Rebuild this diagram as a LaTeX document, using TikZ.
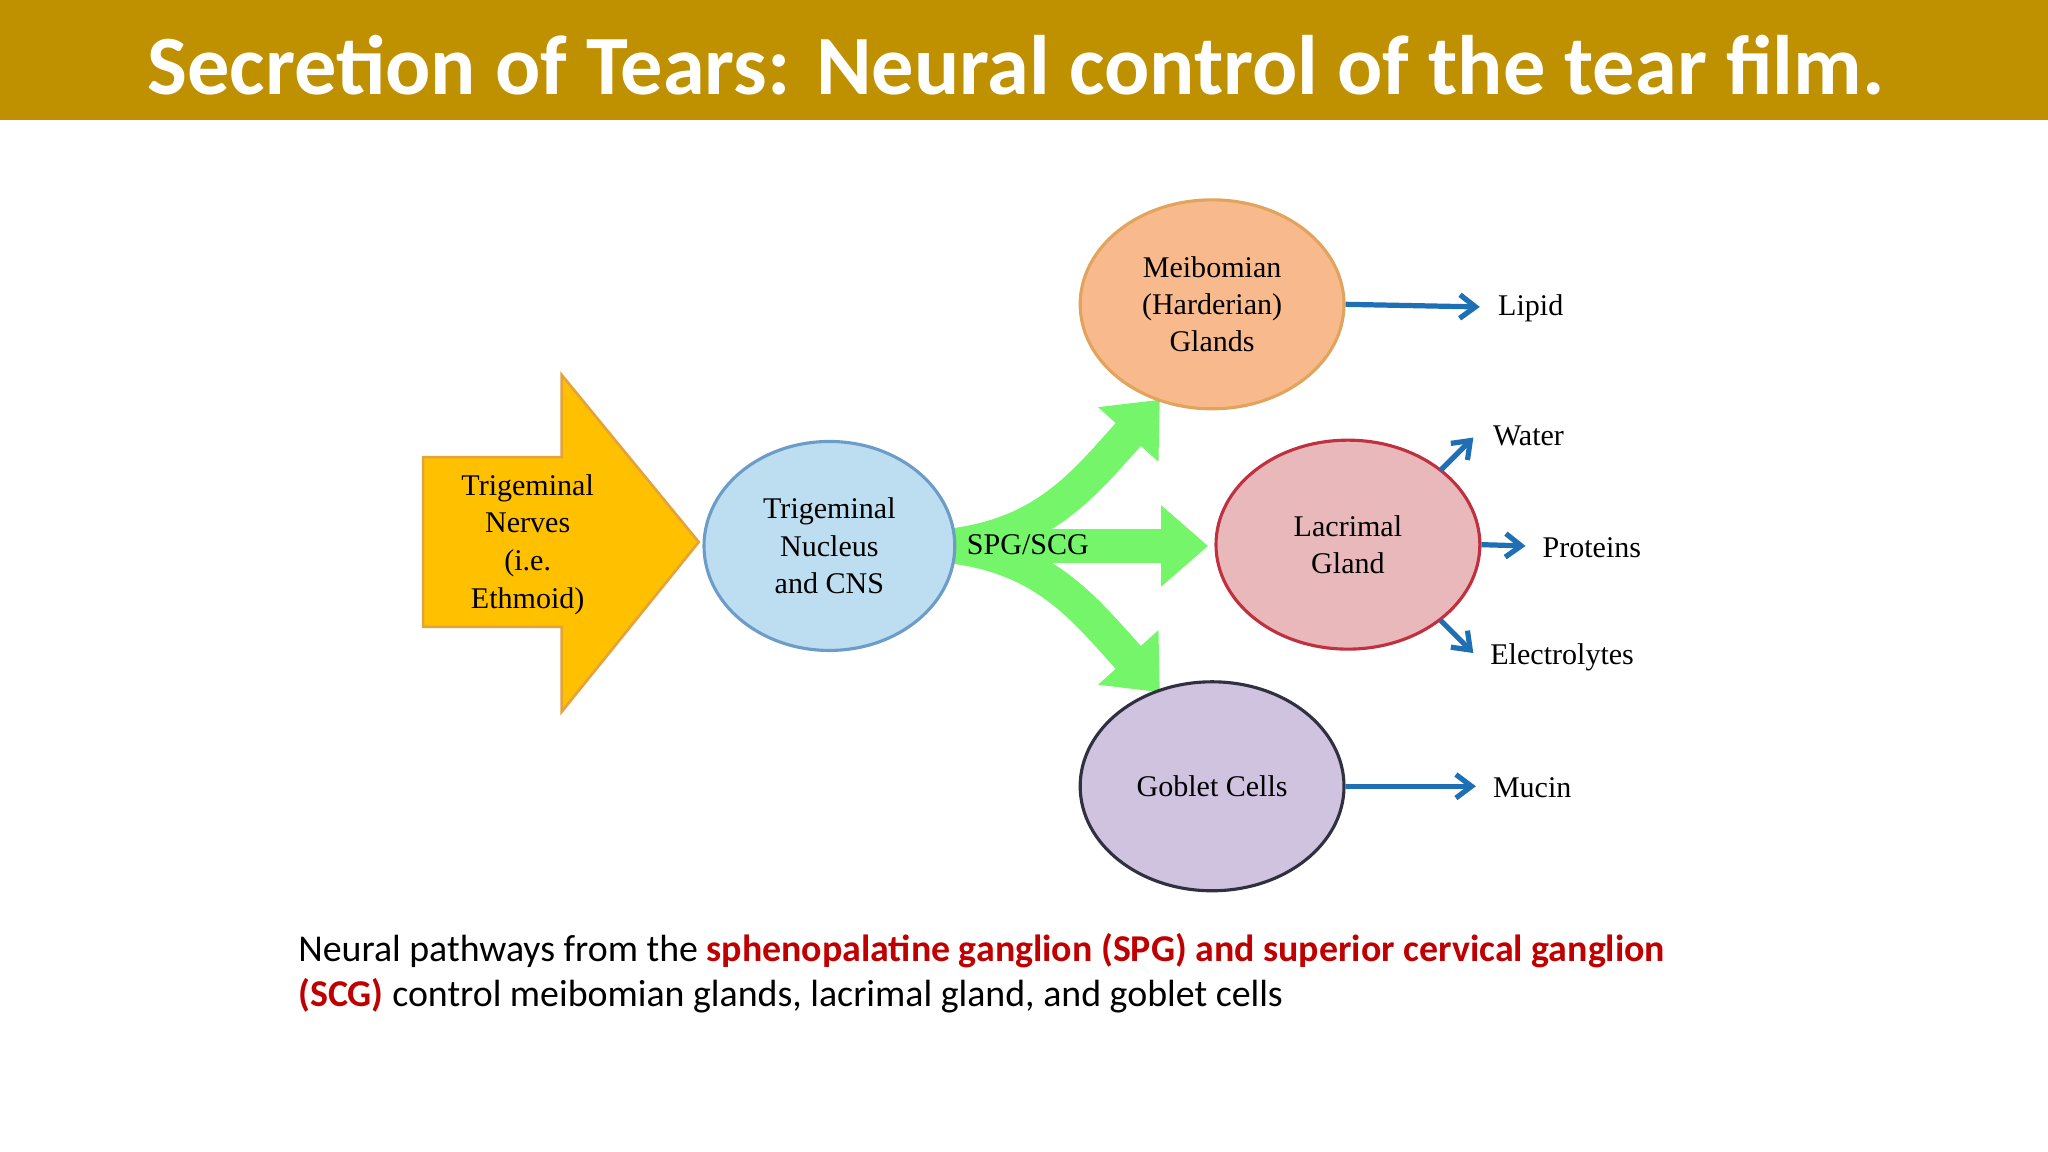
\documentclass[tikz,border=0pt]{standalone}
\usepackage{fontspec}
\setmainfont{Carlito}
\newfontfamily\serifd{Liberation Serif}
\usetikzlibrary{arrows.meta,shapes.geometric}
\definecolor{banner}{HTML}{BF9000}
\definecolor{bl}{HTML}{1F6FB5}
\definecolor{grn}{HTML}{74F56A}
\definecolor{capred}{HTML}{C00000}
\definecolor{arrF}{HTML}{FFC000}\definecolor{arrD}{HTML}{E3A33A}
\definecolor{nucF}{HTML}{BDDDF0}\definecolor{nucD}{HTML}{6C9CC8}
\definecolor{meiF}{HTML}{F8BA8C}\definecolor{meiD}{HTML}{E2A45C}
\definecolor{lacF}{HTML}{E9B8BA}\definecolor{lacD}{HTML}{C0303F}
\definecolor{gobF}{HTML}{CFC3E0}\definecolor{gobD}{HTML}{303040}
\tikzset{
 ell/.style={ellipse,draw,line width=1.2pt,minimum width=101pt,minimum height=80pt,inner sep=0pt,align=center,font=\serifd\fontsize{11.5}{14.3}\selectfont},
 lab/.style={font=\serifd\fontsize{11.5}{13}\selectfont,anchor=west},
 barr/.style={bl,line width=2pt,-{Straight Barb[length=6pt,width=9pt,line width=2pt]}},
 garr/.style={grn,line width=13pt,-{Triangle[length=18pt,width=30pt]}}
}
\begin{document}
\begin{tikzpicture}[x=0.5pt,y=-0.5pt]
\useasboundingbox (0,0) rectangle (1568,882);
\fill[banner] (0,0) rectangle (1568,92);
\node[text=white,font=\bfseries\fontsize{32.3}{36}\selectfont] (title) at (778,50) {Secretion of Tears: Neural control of the tear film.};
\draw[fill=arrF,draw=arrD,line width=1pt]
 (324,350) -- (430,350) -- (430,287) -- (535,415) -- (430,545) -- (430,480) -- (324,480) -- cycle;
\node[align=center,font=\serifd\fontsize{11.5}{14.5}\selectfont] (tn) at (404,417) {Trigeminal\\Nerves\\(i.e.\\Ethmoid)};
\coordinate (g0) at (725,418);
\draw[garr] (g0) .. controls (800,410) and (830,370) .. (888,306);
\draw[garr] (g0) -- (925,418);
\draw[garr] (g0) .. controls (800,426) and (830,466) .. (888,530);
\node[ell,fill=nucF,draw=nucD,minimum width=96pt] (nuc) at (635,418) {Trigeminal\\Nucleus\\and CNS};
\node[ell,fill=meiF,draw=meiD] (mei) at (928,233) {Meibomian\\(Harderian)\\Glands};
\node[ell,fill=lacF,draw=lacD] (lac) at (1032,417) {Lacrimal\\Gland};
\node[ell,fill=gobF,draw=gobD] (gob) at (928,602) {Goblet Cells};
\node[font=\serifd\fontsize{11.5}{13}\selectfont] (spg) at (787,417) {SPG/SCG};
\coordinate (w) at (1128,335); \coordinate (e) at (1128,500);
\draw[barr] (mei.east) -- (1133,235);
\node[lab] (lip) at (1140,236) {Lipid};
\draw[barr] (1103,360) -- (w);
\node[lab] (wat) at (1136,334) {Water};
\draw[barr] (lac.east) -- (1168,418);
\node[lab] (pro) at (1174,419) {Proteins};
\draw[barr] (1103,475) -- (e);
\node[lab] (ele) at (1134,503) {Electrolytes};
\draw[barr] (gob.east) -- (1130,602);
\node[lab] (muc) at (1136,603) {Mucin};
\node[anchor=north west,inner sep=0pt,font=\fontsize{14.5}{17.5}\selectfont,align=left] (cap) at (228,714)
 {Neural pathways from the \textcolor{capred}{\bfseries sphenopalatine ganglion (SPG) and superior cervical ganglion}\\
 \textcolor{capred}{\bfseries (SCG)} control meibomian glands, lacrimal gland, and goblet cells};
\end{tikzpicture}
\end{document}
